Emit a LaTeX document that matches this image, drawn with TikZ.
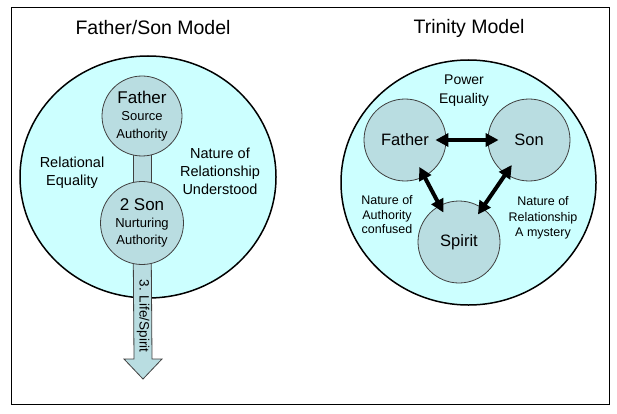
\documentclass[tikz,border=0pt]{standalone}
\usepackage{fontspec}
\setmainfont{Liberation Sans}
\usetikzlibrary{shapes.geometric, arrows.meta, positioning, calc}
\definecolor{paleaqua}{HTML}{CCFFFF}
\definecolor{slateaqua}{HTML}{B9DDE1}
\definecolor{rimgrey}{HTML}{404040}
\tikzstyle{model} = [ellipse, draw=black, fill=paleaqua, line width=1.5pt, inner sep=0pt]
\tikzstyle{person} = [circle, draw=rimgrey, fill=slateaqua, line width=0.8pt,
                      minimum size=82pt, inner sep=0pt, align=center]
\tikzstyle{shaft} = [draw=rimgrey, fill=slateaqua, line width=0.8pt]
\tikzstyle{bond} = [{Triangle[length=13pt,width=13pt]}-{Triangle[length=13pt,width=13pt]},
                    line width=4pt, shorten <=-11pt, shorten >=-11pt]
\tikzstyle{title} = [font=\fontsize{19.5}{22}\selectfont]
\tikzstyle{note} = [font=\fontsize{14.5}{18.5}\selectfont, align=center]
\tikzstyle{smallnote} = [font=\fontsize{12.5}{14.5}\selectfont, align=center]

\begin{document}
\begin{tikzpicture}[x=1pt, y=-1pt]
    \useasboundingbox (0,0) rectangle (617,414);
    \draw[line width=0.8pt] (11,7) rectangle (609,404);

    % Father/Son model
    \node[title] (fstitle) at (153,28) {Father/Son Model};
    \node[model, minimum width=256pt, minimum height=242pt] (fsmodel) at (148,177) {};
    \coordinate (fatherc) at (142,116);
    \coordinate (sonc) at (142,223);
    \coordinate (lifetip) at (143,379);
    \draw[shaft] ($(fatherc)+(-9,0)$) rectangle ($(sonc)+(9,0)$);
    \draw[shaft] ($(sonc)+(-9,0)$) -- ($(lifetip)+(-9,-20)$) -- ($(lifetip)+(-19,-20)$)
        -- (lifetip) -- ($(lifetip)+(19,-20)$) -- ($(lifetip)+(9,-20)$) -- ($(sonc)+(9,0)$) -- cycle;
    \node[person, minimum size=80pt, font=\fontsize{13}{17.5}\selectfont] (father) at (fatherc)
        {{\fontsize{17}{17.5}\selectfont Father}\\Source\\Authority};
    \node[person, minimum size=83pt, font=\fontsize{13}{17}\selectfont] (son) at (sonc)
        {{\fontsize{17}{17}\selectfont 2 Son}\\Nurturing\\Authority};
    \node[rotate=-90, font=\fontsize{13.5}{15}\selectfont] (life) at (143,316) {3. Life/Spirit};
    \node[note] (releq) at (72,173) {Relational\\Equality};
    \node[note, font=\fontsize{14.5}{18}\selectfont] (relund) at (220,171) {Nature of\\Relationship\\Understood};

    % Trinity model
    \node[title] (trtitle) at (469,28) {Trinity Model};
    \node[model, minimum width=255pt, minimum height=245pt] (trmodel) at (468.5,182.5) {};
    \node[person, font=\fontsize{16.5}{18}\selectfont] (tfather) at (405,140) {Father};
    \node[person, font=\fontsize{16.5}{18}\selectfont] (tson) at (529,140) {Son};
    \node[person, font=\fontsize{16.5}{18}\selectfont] (tspirit) at (459,242) {Spirit};
    \draw[bond] (tfather) -- (tson);
    \draw[bond, shorten >=-8pt] (tfather) -- (tspirit);
    \draw[bond, shorten >=-8pt] (tson) -- (tspirit);
    \node[note, font=\fontsize{14}{19}\selectfont] (power) at (464,91) {Power\\Equality};
    \node[smallnote] (authconf) at (387,215) {Nature of\\Authority\\confused};
    \node[smallnote, font=\fontsize{12.5}{15.5}\selectfont] (mystery) at (543,218) {Nature of\\Relationship\\A mystery};
\end{tikzpicture}
\end{document}
